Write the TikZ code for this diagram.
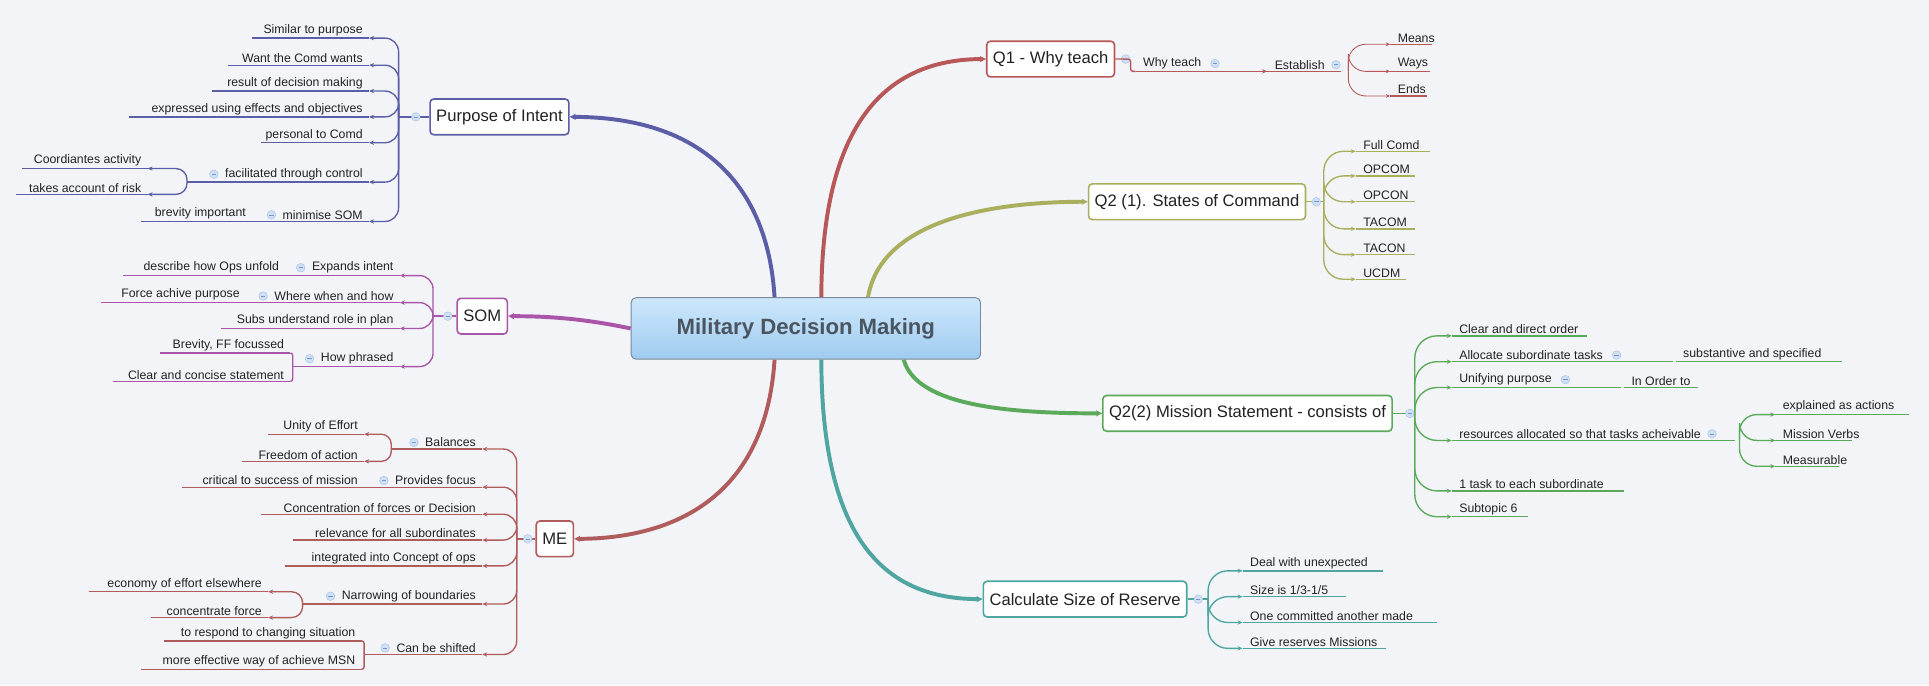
\documentclass[tikz,border=0pt]{standalone}
\usepackage{fontspec}
\setmainfont{Liberation Sans}
\usetikzlibrary{arrows.meta,calc}
\definecolor{bgc}{HTML}{F2F4F8}
\definecolor{cP}{HTML}{5B5EA6}
\definecolor{cS}{HTML}{A956A9}
\definecolor{cM}{HTML}{B05C5C}
\definecolor{cQa}{HTML}{B85757}
\definecolor{cQb}{HTML}{A9AF5C}
\definecolor{cQc}{HTML}{5BAA5B}
\definecolor{cR}{HTML}{4FA6A1}
\definecolor{txt}{HTML}{222222}
\definecolor{icfill}{HTML}{CFE0F5}
\definecolor{icdraw}{HTML}{A9C4E8}
\definecolor{icmin}{HTML}{7896C8}
\definecolor{cbord}{HTML}{7A8A9A}
\definecolor{ctop}{HTML}{CDE7FB}
\definecolor{cbot}{HTML}{9FCBF0}
\definecolor{ctext}{HTML}{4A5560}
\newcommand\lfL[6]{%
  \coordinate (#1-l) at (#2,#4); \coordinate (#1-r) at (#3,#4);
  \draw[#6,line width=1.1pt] (#1-l) -- (#1-r);
  \node[leaf,anchor=south east] (#1) at ([xshift=-4pt,yshift=0.5pt]#1-r) {#5};}
\newcommand\lfR[6]{%
  \coordinate (#1-l) at (#2,#4); \coordinate (#1-r) at (#3,#4);
  \draw[#6,line width=1.1pt] (#1-l) -- (#1-r);
  \node[leaf,anchor=south west] (#1) at ([xshift=5pt,yshift=0.5pt]#1-l) {#5};}
\tikzset{
  leaf/.style={inner sep=1pt,text=txt,font=\fontsize{10}{12}\selectfont},
  box/.style={draw,fill=white,rounded corners=3pt,line width=1.3pt,text=txt,
    font=\fontsize{13.5}{15}\selectfont,minimum height=29pt,inner xsep=5pt},
  conn/.style={line width=1.1pt,rounded corners=11pt,-{Stealth[length=4pt,width=3.5pt]}},
  thin/.style={line width=0.7pt,rounded corners=11pt,-{Stealth[length=3.5pt,width=3pt]}},
  main/.style={line width=3.2pt,-{Stealth[length=5pt,width=5pt]}},
  icon/.style={circle,inner sep=0pt,minimum size=7pt,fill=icfill,
    draw=icdraw,line width=0.4pt,
    path picture={\draw[icmin,line width=0.5pt]
      ([xshift=-1.8pt]path picture bounding box.center) -- ([xshift=1.8pt]path picture bounding box.center);}},
}
\begin{document}
\begin{tikzpicture}[x=1pt,y=-1pt]
\fill[bgc] (0,0) rectangle (1568,557);
\useasboundingbox (0,0) rectangle (1568,557);

% central
\node[draw=cbord,line width=0.8pt,rounded corners=4pt,
  top color=ctop,bottom color=cbot,
  minimum width=284pt,minimum height=50pt,text=ctext,
  font=\bfseries\fontsize{18}{20}\selectfont] (C) at (655,267) {Military Decision Making};

% main boxes
\node[box,draw=cP] (PI) at (406,95) {Purpose of Intent};
\node[box,draw=cS] (SOM) at (392,257) {SOM};
\node[box,draw=cM] (ME) at (451,438) {ME};
\node[box,draw=cQa] (Q1) at (854,48) {Q1 - Why teach};
\node[box,draw=cQb] (Q2) at (973,164) {Q2 (1). States of Command};
\node[box,draw=cQc] (Q3) at (1014,336) {Q2(2) Mission Statement - consists of};
\node[box,draw=cR] (RS) at (882,487) {Calculate Size of Reserve};

% main connectors
\draw[main,cP] ($(C.north west)+(117,0)$) .. controls (624,150) and (570,95) .. (PI.east);
\draw[main,cS] (C.west) .. controls (470,258) and (440,257) .. (SOM.east);
\draw[main,cM] ($(C.south west)+(117,0)$) .. controls (622,410) and (540,438) .. (ME.east);
\draw[main,cQa] ($(C.north west)+(155,0)$) .. controls (668,100) and (720,48) .. (Q1.west);
\draw[main,cQb] ($(C.north west)+(193,0)$) .. controls (715,185) and (790,164) .. (Q2.west);
\draw[main,cQc] ($(C.south west)+(222,0)$) .. controls (745,330) and (820,336) .. (Q3.west);
\draw[main,cR] ($(C.south west)+(155,0)$) .. controls (668,440) and (720,487) .. (RS.west);

% ---------- Purpose of Intent
\coordinate (pH) at (324,95);
\draw[cP,line width=1.1pt] (PI.west) -- (pH);
\node[icon] (ipH) at (338,95) {};
\lfL{p1}{205}{300}{31}{Similar to purpose}{cP}
\lfL{p2}{185}{300}{53}{Want the Comd wants}{cP}
\lfL{p3}{172}{300}{74}{result of decision making}{cP}
\lfL{p4}{105}{300}{95}{expressed using effects and objectives}{cP}
\lfL{p5}{212}{300}{116}{personal to Comd}{cP}
\lfL{p6}{152}{300}{148}{facilitated through control}{cP}
\lfL{p7}{210}{300}{180}{minimise SOM}{cP}
\foreach \n in {p1,p2,p3,p4,p5,p6,p7} \draw[cP,conn] (pH) |- (\n-r);
\node[icon] (ip6) at ([xshift=-8pt]p6.west) {};
\node[icon] (ip7) at ([xshift=-8pt]p7.west) {};
\lfL{p6a}{18}{120}{137}{Coordiantes activity}{cP}
\lfL{p6b}{13}{120}{158}{takes account of risk}{cP}
\draw[cP,conn,rounded corners=9pt] (p6-l) |- (p6a-r);
\draw[cP,conn,rounded corners=9pt] (p6-l) |- (p6b-r);
\lfL{p7a}{115}{205}{180}{brevity important}{cP}
\draw[cP,line width=1.1pt] (p7-l) -- (p7a-r);

% ---------- SOM
\coordinate (sH) at (352,257);
\draw[cS,line width=1.1pt] (SOM.west) -- (sH);
\node[icon] (isH) at (364,257) {};
\lfL{s1}{238}{325}{224}{Expands intent}{cS}
\lfL{s2}{205}{325}{246}{Where when and how}{cS}
\lfL{s3}{180}{325}{267}{Subs understand role in plan}{cS}
\lfL{s4}{238}{325}{298}{How phrased}{cS}
\foreach \n in {s1,s2,s3,s4} \draw[cS,conn] (sH) |- (\n-r);
\node[icon] (is1) at ([xshift=-8pt]s1.west) {};
\node[icon] (is2) at ([xshift=-8pt]s2.west) {};
\node[icon] (is4) at ([xshift=-8pt]s4.west) {};
\lfL{s1a}{100}{232}{224}{describe how Ops unfold}{cS}
\lfL{s2a}{82}{200}{246}{Force achive purpose}{cS}
\draw[cS,line width=1.1pt] (s1-l) -- (s1a-r);
\draw[cS,line width=1.1pt] (s2-l) -- (s2a-r);
\lfL{s4a}{130}{236}{287}{Brevity, FF focussed}{cS}
\lfL{s4b}{92}{236}{310}{Clear and concise statement}{cS}
\draw[cS,line width=1.1pt,rounded corners=2pt] (s4a-r) -| (s4-l) |- (s4b-r);

% ---------- ME
\coordinate (mH) at (420,438);
\draw[cM,line width=1.1pt] (ME.west) -- (mH);
\node[icon] (imH) at (429,438) {};
\lfL{m1}{318}{392}{365}{Balances}{cM}
\lfL{m2}{298}{392}{396}{Provides focus}{cM}
\lfL{m3}{212}{392}{418}{Concentration of forces or Decision}{cM}
\lfL{m4}{238}{392}{439}{relevance for all subordinates}{cM}
\lfL{m5}{232}{392}{460}{integrated into Concept of ops}{cM}
\lfL{m6}{246}{392}{491}{Narrowing of boundaries}{cM}
\lfL{m7}{296}{392}{532}{Can be shifted}{cM}
\foreach \n in {m1,m2,m3,m4,m5,m6,m7} \draw[cM,conn] (mH) |- (\n-r);
\node[icon] (im1) at ([xshift=-8pt]m1.west) {};
\node[icon] (im2) at ([xshift=-8pt]m2.west) {};
\node[icon] (im6) at ([xshift=-8pt]m6.west) {};
\node[icon] (im7) at ([xshift=-8pt]m7.west) {};
\lfL{m1a}{218}{296}{353}{Unity of Effort}{cM}
\lfL{m1b}{197}{296}{375}{Freedom of action}{cM}
\draw[cM,conn,rounded corners=8pt] (m1-l) |- (m1a-r);
\draw[cM,conn,rounded corners=8pt] (m1-l) |- (m1b-r);
\lfL{m2a}{148}{296}{396}{critical to success of mission}{cM}
\draw[cM,line width=1.1pt] (m2-l) -- (m2a-r);
\lfL{m6a}{72}{218}{481}{economy of effort elsewhere}{cM}
\lfL{m6b}{123}{218}{502}{concentrate force}{cM}
\draw[cM,conn,rounded corners=9pt] (m6-l) |- (m6a-r);
\draw[cM,conn,rounded corners=9pt] (m6-l) |- (m6b-r);
\lfL{m7a}{133}{294}{521}{to respond to changing situation}{cM}
\lfL{m7b}{115}{294}{544}{more effective way of achieve MSN}{cM}
\draw[cM,line width=1.1pt,rounded corners=2pt] (m7a-r) -| (m7-l) |- (m7b-r);

% ---------- Q1
\node[icon] (iq1) at (915,48) {};
\lfR{w1}{923}{1030}{58}{Why teach}{cQa}
\draw[cQa,line width=1.1pt,rounded corners=2pt] (Q1.east) -- (919,48) |- (w1-l);
\node[icon] (iw1) at ([xshift=10pt]w1.east) {};
\lfR{e1}{1030}{1090}{58}{Establish}{cQa}
\draw[cQa,-{Stealth[length=4pt,width=3.5pt]},line width=1.1pt] (1015,58) -- (e1-l);
\node[icon] (ie1) at ([xshift=8pt]e1.east) {};
\coordinate (eH) at (1096,58);
\lfR{e1a}{1130}{1164}{36}{Means}{cQa}
\lfR{e1b}{1130}{1162}{58}{Ways}{cQa}
\lfR{e1c}{1130}{1160}{78}{Ends}{cQa}
\foreach \n in {e1a,e1b,e1c} \draw[cQa,thin,rounded corners=14pt] (eH) |- (\n-l);
\foreach \n in {e1a,e1b,e1c} \draw[cQa,line width=0.7pt] (\n-l) -- (\n-r);

% ---------- Q2(1)
\coordinate (fH) at (1076,164);
\draw[cQb,line width=1.1pt] (Q2.east) -- (fH);
\node[icon] (iq2) at (1070,164) {};
\lfR{f1}{1102}{1162}{123}{Full Comd}{cQb}
\lfR{f2}{1102}{1150}{143}{OPCOM}{cQb}
\lfR{f3}{1102}{1150}{164}{OPCON}{cQb}
\lfR{f4}{1102}{1150}{186}{TACOM}{cQb}
\lfR{f5}{1102}{1150}{207}{TACON}{cQb}
\lfR{f6}{1102}{1143}{227}{UCDM}{cQb}
\foreach \n in {f1,f2,f3,f4,f5,f6} \draw[cQb,conn,rounded corners=16pt] (fH) |- (\n-l);

% ---------- Q2(2)
\coordinate (gH) at (1150,336);
\draw[cQc,line width=1.1pt] (Q3.east) -- (gH);
\node[icon] (iq3) at (1146,336) {};
\lfR{g1}{1180}{1290}{273}{Clear and direct order}{cQc}
\lfR{g2}{1180}{1360}{294}{Allocate subordinate tasks}{cQc}
\lfR{g3}{1180}{1318}{315}{Unifying purpose}{cQc}
\lfR{g4}{1180}{1410}{358}{resources allocated so that tasks acheivable}{cQc}
\lfR{g5}{1180}{1320}{399}{1 task to each subordinate}{cQc}
\lfR{g6}{1180}{1242}{420}{Subtopic 6}{cQc}
\foreach \n in {g1,g2,g3,g4,g5,g6} \draw[cQc,conn,rounded corners=18pt] (gH) |- (\n-l);
\node[icon] (ig2) at ([xshift=10pt]g2.east) {};
\node[icon] (ig3) at ([xshift=10pt]g3.east) {};
\node[icon] (ig4) at ([xshift=8pt]g4.east) {};
\lfR{g2a}{1362}{1497}{294}{substantive and specified}{cQc}
\lfR{g3a}{1320}{1380}{315}{In Order to}{cQc}
\coordinate (g4H) at (1414,358);
\lfR{g4a}{1443}{1552}{337}{explained as actions}{cQc}
\lfR{g4b}{1443}{1505}{358}{Mission Verbs}{cQc}
\lfR{g4c}{1443}{1495}{379}{Measurable}{cQc}
\foreach \n in {g4a,g4b,g4c} \draw[cQc,conn,rounded corners=14pt] (g4H) |- (\n-l);

% ---------- Reserve
\coordinate (rH) at (982,487);
\draw[cR,line width=1.1pt] (RS.east) -- (rH);
\node[icon] (irs) at (974,487) {};
\lfR{r1}{1010}{1124}{464}{Deal with unexpected}{cR}
\lfR{r2}{1010}{1094}{485}{Size is 1/3-1/5}{cR}
\lfR{r3}{1010}{1168}{506}{One committed another made}{cR}
\lfR{r4}{1010}{1127}{527}{Give reserves Missions}{cR}
\foreach \n in {r1,r2,r3,r4} \draw[cR,conn,rounded corners=16pt] (rH) |- (\n-l);
\end{tikzpicture}
\end{document}
